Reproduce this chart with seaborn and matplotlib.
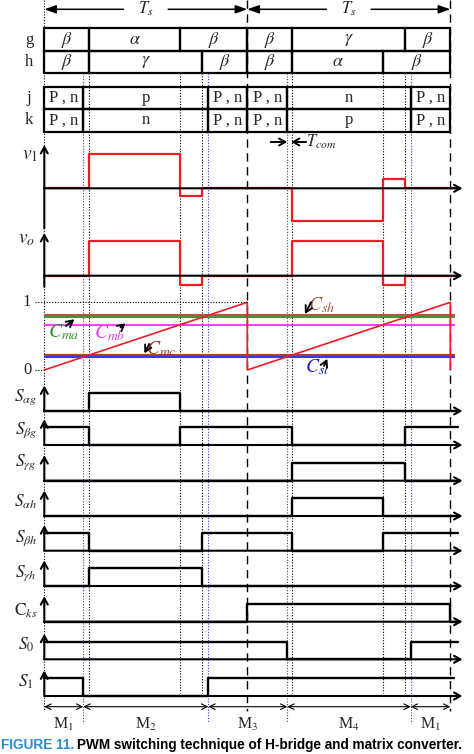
import matplotlib
matplotlib.use('Agg')
import matplotlib.pyplot as plt
import seaborn as sns
from matplotlib.patches import Rectangle

# ---- data (time in units of Ts) ----
black_dot_t = [0.0, 0.222, 0.668, 0.778, 1.222, 1.667, 1.778]
blue_dot_t = [0.192, 0.808, 1.197, 1.805]
dash_t = [1.0, 2.0]

g_edges = [0, 0.222, 0.668, 1.0, 1.222, 1.778, 2.0]
g_labels = [r'$\beta$', r'$\alpha$', r'$\beta$', r'$\beta$', r'$\gamma$', r'$\beta$']
h_edges = [0, 0.222, 0.778, 1.0, 1.222, 1.667, 2.0]
h_labels = [r'$\beta$', r'$\gamma$', r'$\beta$', r'$\beta$', r'$\alpha$', r'$\beta$']
jk_edges = [0, 0.192, 0.808, 1.0, 1.197, 1.805, 2.0]
j_labels = ['P , n', 'p', 'P , n', 'P , n', 'n', 'P , n']
k_labels = ['P , n', 'n', 'P , n', 'P , n', 'p', 'P , n']

v1_t = [0, 0.222, 0.668, 0.778, 1.222, 1.667, 1.778, 2.05]
v1_lev = [0, 1.0, -0.23, 0, -0.95, 0.26, 0]
vo_t = [0, 0.222, 0.668, 0.778, 1.222, 1.667, 1.778, 2.05]
vo_lev = [0, 1.02, -0.26, 0, 1.02, -0.26, 0]

carrier_t = [0, 1, 1, 2, 2]
carrier_v = [0, 1, 0, 1, 0]

comp_names = [r'$C_{sh}$', r'$C_{ma}$', r'$C_{mb}$', r'$C_{mc}$', r'$C_{sl}$']
comp_vals = [0.81, 0.778, 0.667, 0.222, 0.197]
comp_colors = ['#b5573c', '#3c9a3c', '#ff40ff', '#a8402e', '#2c3cff']
comp_text_colors = ['#a0583c', '#2f8f2f', '#e040e0', '#9a3a2a', '#2020d0']

sig_names = [r'$S_{\alpha g}$', r'$S_{\beta g}$', r'$S_{\gamma g}$', r'$S_{\alpha h}$',
             r'$S_{\beta h}$', r'$S_{\gamma h}$', r'$\mathrm{C}_{ks}$', r'$S_0$', r'$S_1$']
sig_t = [[0, 0.222, 0.668, 2.05],
         [0, 0.222, 0.668, 1.222, 1.778, 2.04],
         [0, 1.222, 1.778, 2.05],
         [0, 1.222, 1.667, 2.05],
         [0, 0.222, 0.778, 1.222, 1.667, 2.04],
         [0, 0.222, 0.778, 2.05],
         [0, 1.0, 2.0, 2.05],
         [0, 1.197, 1.805, 2.04],
         [0, 0.192, 0.808, 2.02]]
sig_lev = [[0, 1, 0], [1, 0, 1, 0, 1], [0, 1, 0], [0, 1, 0], [1, 0, 1, 0, 1],
           [0, 1, 0], [0, 1, 0], [1, 0, 1], [1, 0, 1]]

mode_edges = [0, 0.192, 0.808, 1.197, 1.805, 2.0]
mode_labels = [r'M$_1$', r'M$_2$', r'M$_3$', r'M$_4$', r'M$_1$']

# ---- layout (pixels) ----
W, H = 474, 754
X0, PX = 44.3, 203.0
XL = (-X0 / PX, (W - X0) / PX)
LAB_T = -0.09
RED = '#ee1c25'

sns.set_style('white')
plt.rcParams['font.family'] = ['Liberation Serif', 'DejaVu Serif']
plt.rcParams['mathtext.fontset'] = 'stix'

fig = plt.figure(figsize=(W / 100, H / 100), dpi=100)
bg = fig.add_axes([0, 0, 1, 1])
bg.set_xlim(XL)
bg.set_ylim(H, 0)
bg.axis('off')

# guide lines
bg.vlines(black_dot_t[0], 0, 710, colors='k', lw=0.8, linestyles=(0, (1, 1.5)))
bg.vlines(black_dot_t[1:], 73, 693, colors='k', lw=0.8, linestyles=(0, (1, 1.5)))
bg.vlines(blue_dot_t, 73, 723, colors='#3a3acc', lw=0.8, linestyles=(0, (1, 1.5)))
bg.vlines(dash_t, 0, 711, colors='k', lw=1.0, linestyles=(0, (6, 4)))


def arrow(ax, x0, y0, x1, y1, style='->,head_length=0.45,head_width=0.25', lw=1.5, ms=10):
    ax.annotate('', xy=(x1, y1), xytext=(x0, y0), annotation_clip=False,
                arrowprops=dict(arrowstyle=style, lw=lw, color='k', shrinkA=0, shrinkB=0,
                                mutation_scale=ms))


# Ts arrows
for a, b in [(0, 1), (1, 2)]:
    c = (a + b) / 2
    arrow(bg, c - 0.11, 9.3, a, 9.3, style='-|>,head_length=0.7,head_width=0.25', lw=1.1)
    arrow(bg, c + 0.11, 9.3, b, 9.3, style='-|>,head_length=0.7,head_width=0.25', lw=1.1)
    bg.text(c, 9.3, r'$T_s$', ha='center', va='center', fontsize=12)


def table(edges, labels, top, bot, name, size):
    for i, lab in enumerate(labels):
        bg.add_patch(Rectangle((edges[i], top), edges[i + 1] - edges[i], bot - top,
                               fill=False, ec='k', lw=1.6, zorder=3))
        bg.text((edges[i] + edges[i + 1]) / 2, (top + bot) / 2, lab,
                ha='center', va='center', fontsize=size)
    bg.text(-0.075, (top + bot) / 2, name, ha='center', va='center', fontsize=12)


table(g_edges, g_labels, 28.3, 50.7, 'g', 13)
table(h_edges, h_labels, 50.7, 72.7, 'h', 13)
table(jk_edges, j_labels, 86.7, 109, 'j', 12)
table(jk_edges, k_labels, 109, 131.7, 'k', 12)

# T_com
arrow(bg, 1.115, 142, 1.197, 142, lw=1.4)
arrow(bg, 1.29, 142, 1.216, 142, lw=1.4)
bg.text(1.29, 142, r'$T_{com}$', ha='left', va='center', fontsize=12)

# M segments
for i, lab in enumerate(mode_labels):
    arrow(bg, mode_edges[i], 706.7, mode_edges[i + 1], 706.7,
          style='<->,head_length=0.4,head_width=0.2', lw=0.8)
    bg.text((mode_edges[i] + mode_edges[i + 1]) / 2, 724, lab,
            ha='center', va='center', fontsize=11.5)


def row_axes(base, unit, above, below):
    ax = fig.add_axes([0, (H - base - below) / H, 1, (above + below) / H])
    ax.set_xlim(XL)
    ax.set_ylim(-below / unit, above / unit)
    ax.axis('off')
    ax.patch.set_alpha(0)
    return ax


def steps(t, lev):
    xs, ys = [], []
    for i, v in enumerate(lev):
        xs += [t[i], t[i + 1]]
        ys += [v, v]
    return xs, ys


# v1 and vo
for t, lev, base, above, below, name, lx, ly in [
        (v1_t, v1_lev, 188.3, 43.3, 40, r'$v_1$', 30, 156),
        (vo_t, vo_lev, 275.7, 42.7, 11, r'$v_o$', 27, 239)]:
    ax = row_axes(base, 34, above + 4, below + 4)
    xs, ys = steps(t, lev)
    sns.lineplot(x=xs, y=ys, sort=False, estimator=None, color=RED, lw=1.6, ax=ax)
    arrow(ax, 0, -below / 34, 0, above / 34)
    arrow(ax, 0, 0, 2.06, 0)
    ax.text((lx - X0) / PX, (base - ly) / 34, name, ha='center', va='center', fontsize=14)

# carrier
U = 67.7
ax = row_axes(370, U, 75, 8)
ax.hlines(comp_vals, 0, 2.025, colors=comp_colors, lw=1.5)
sns.lineplot(x=carrier_t, y=carrier_v, sort=False, estimator=None, color=RED, lw=1.2, ax=ax)
ax.hlines([1], -0.045, 1.0, colors='k', lw=0.8, linestyles=(0, (1, 1.5)))
ax.hlines([0], -0.045, 0.0, colors='k', lw=0.8, linestyles=(0, (1, 1.5)))
ax.text(-0.085, 1, '1', ha='center', va='center', fontsize=12)
ax.text(-0.085, 0, '0', ha='center', va='center', fontsize=12)
comp_text = [(1.366, 0.96), (0.094, 0.566), (0.323, 0.551), (0.578, 0.305), (1.345, 0.04)]
comp_arrow = [((1.314, 1.0), (1.284, 0.827)), ((0.107, 0.65), (0.148, 0.749)),
              ((0.376, 0.63), (0.40, 0.69)), ((0.517, 0.384), (0.493, 0.246)),
              ((1.378, 0.06), (1.394, 0.165))]
for name, col, (tx, ty), ((ax0, ay0), (ax1, ay1)) in zip(comp_names, comp_text_colors,
                                                          comp_text, comp_arrow):
    ax.text(tx, ty, name, color=col, ha='center', va='center', fontsize=14)
    arrow(ax, ax0, ay0, ax1, ay1, lw=1.4)

# switching signals
sig_base = [411, 445, 480.7, 516, 550.7, 586, 621.7, 659.3, 696]
sig_lab_dy = [14, 15, 18, 14, 12, 13, 11, 14, 14]
SU = 17.6
for name, t, lev, base, dy in zip(sig_names, sig_t, sig_lev, sig_base, sig_lab_dy):
    ax = row_axes(base, SU, 30, 6)
    xs, ys = steps(t, lev)
    sns.lineplot(x=xs, y=ys, sort=False, estimator=None, color='k', lw=1.7, ax=ax)
    arrow(ax, 0, 0, 0, 25.5 / SU)
    arrow(ax, 0, 0, 2.06, 0)
    ax.text(LAB_T, dy / SU, name, ha='center', va='center', fontsize=12.5)

# caption
t1 = fig.text(0.002, 1 - 745 / H, 'FIGURE 11.', color='#2b8ccd', fontsize=9.85,
              fontweight='bold', family='Liberation Sans', va='center')
fig.canvas.draw()
bb = t1.get_window_extent()
fig.text((bb.x1 + 3) / W, 1 - 745 / H, 'PWM switching technique of H-bridge and matrix converter.',
         color='k', fontsize=9.85, fontweight='bold', family='Liberation Sans', va='center')

fig.savefig('out.png', dpi=100)
